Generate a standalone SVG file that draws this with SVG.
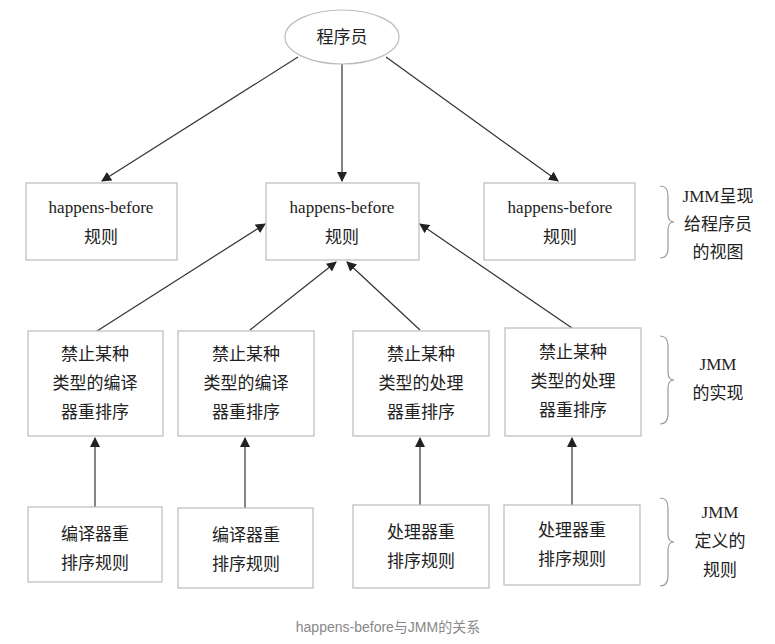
<svg xmlns="http://www.w3.org/2000/svg" width="775" height="644" viewBox="0 0 775 644">
<style>
.b{fill:#fff;stroke:#bbb;stroke-width:1.2}
.t{font-family:"Liberation Serif","Noto Sans CJK SC",serif;font-size:17px;fill:#222;text-anchor:middle}
.c{fill:none;stroke:#333;stroke-width:1.2}
.br{fill:none;stroke:#999;stroke-width:1.2}
</style>
<defs><marker id="a" markerWidth="10" markerHeight="10" refX="9" refY="5" orient="auto" markerUnits="userSpaceOnUse"><path d="M0,0L10,5L0,10z" fill="#222"/></marker></defs>
<rect width="775" height="644" fill="#fff"/>
<g id="connectors" class="c">
<line x1="298" y1="57" x2="102" y2="181" marker-end="url(#a)"/>
<line x1="342" y1="64" x2="342" y2="181" marker-end="url(#a)"/>
<line x1="386" y1="57" x2="558" y2="181" marker-end="url(#a)"/>
<line x1="97" y1="331" x2="265" y2="224" marker-end="url(#a)"/>
<line x1="250" y1="330" x2="336" y2="262" marker-end="url(#a)"/>
<line x1="420" y1="330" x2="347" y2="262" marker-end="url(#a)"/>
<line x1="572" y1="328" x2="420" y2="224" marker-end="url(#a)"/>
<line x1="95" y1="507" x2="95" y2="438" marker-end="url(#a)"/>
<line x1="245" y1="508" x2="245" y2="438" marker-end="url(#a)"/>
<line x1="420" y1="505" x2="420" y2="438" marker-end="url(#a)"/>
<line x1="572" y1="505" x2="572" y2="438" marker-end="url(#a)"/>
</g>
<g id="n0"><ellipse cx="342" cy="37" rx="57" ry="27" class="b"/><text class="t" x="342" y="43">程序员</text></g>
<g id="n1"><rect class="b" x="26" y="183" width="151" height="77"/><text class="t" x="101" y="213">happens-before</text><text class="t" x="101" y="243">规则</text></g>
<g id="n2"><rect class="b" x="266" y="183" width="153" height="77"/><text class="t" x="342" y="213">happens-before</text><text class="t" x="342" y="243">规则</text></g>
<g id="n3"><rect class="b" x="484" y="183" width="151" height="77"/><text class="t" x="560" y="213">happens-before</text><text class="t" x="560" y="243">规则</text></g>
<g id="n4"><rect class="b" x="28" y="331" width="135" height="105"/><text class="t" x="95" y="360">禁止某种</text><text class="t" x="95" y="389">类型的编译</text><text class="t" x="95" y="418">器重排序</text></g>
<g id="n5"><rect class="b" x="178" y="331" width="136" height="105"/><text class="t" x="246" y="360">禁止某种</text><text class="t" x="246" y="389">类型的编译</text><text class="t" x="246" y="418">器重排序</text></g>
<g id="n6"><rect class="b" x="353" y="331" width="136" height="105"/><text class="t" x="421" y="360">禁止某种</text><text class="t" x="421" y="389">类型的处理</text><text class="t" x="421" y="418">器重排序</text></g>
<g id="n7"><rect class="b" x="505" y="328" width="136" height="108"/><text class="t" x="573" y="358">禁止某种</text><text class="t" x="573" y="387">类型的处理</text><text class="t" x="573" y="416">器重排序</text></g>
<g id="n8"><rect class="b" x="28" y="507" width="134" height="75"/><text class="t" x="95" y="540">编译器重</text><text class="t" x="95" y="569">排序规则</text></g>
<g id="n9"><rect class="b" x="178" y="508" width="135" height="80"/><text class="t" x="246" y="541">编译器重</text><text class="t" x="246" y="570">排序规则</text></g>
<g id="n10"><rect class="b" x="353" y="505" width="136" height="83"/><text class="t" x="421" y="538">处理器重</text><text class="t" x="421" y="567">排序规则</text></g>
<g id="n11"><rect class="b" x="504" y="505" width="136" height="80"/><text class="t" x="572" y="536">处理器重</text><text class="t" x="572" y="565">排序规则</text></g>
<g id="braces" class="br">
<path d="M660,186 Q668,186 668,196 V214 Q668,222 674,222 Q668,222 668,230 V248 Q668,258 660,258"/>
<path d="M660,336 Q668,336 668,346 V372 Q668,380 674,380 Q668,380 668,388 V414 Q668,424 660,424"/>
<path d="M660,498 Q668,498 668,508 V534 Q668,542 674,542 Q668,542 668,550 V576 Q668,586 660,586"/>
</g>
<g id="labels">
<text class="t" x="718" y="202">JMM呈现</text><text class="t" x="718" y="230">给程序员</text><text class="t" x="718" y="258">的视图</text>
<text class="t" x="718" y="370">JMM</text><text class="t" x="718" y="399">的实现</text>
<text class="t" x="720" y="518">JMM</text><text class="t" x="720" y="547">定义的</text><text class="t" x="720" y="576">规则</text>
</g>
<text x="388" y="632" style="font-family:'Liberation Sans','Noto Sans CJK SC',sans-serif;font-size:14px;fill:#888;text-anchor:middle">happens-before与JMM的关系</text>
</svg>
